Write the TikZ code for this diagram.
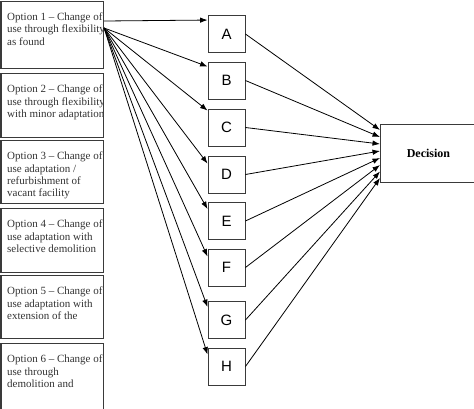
\documentclass[tikz,border=0pt]{standalone}
\usepackage{fontspec}
\setmainfont{Liberation Serif}
\newfontfamily\sansf{Liberation Sans}
\usetikzlibrary{arrows.meta}
\definecolor{boxgray}{HTML}{3A3A3A}
\definecolor{txtgray}{HTML}{333333}
\begin{document}
\begin{tikzpicture}[x=1pt,y=-1pt,
  optbox/.style={draw=boxgray, line width=1.1pt, anchor=north west, minimum width=102.5pt, inner sep=0pt},
  lettbox/.style={draw=boxgray, line width=0.9pt, minimum width=37pt, minimum height=37pt, inner sep=0pt, font=\sansf\fontsize{15}{17}\selectfont},
  decbox/.style={draw=boxgray, line width=0.9pt, anchor=north west, minimum width=96pt, minimum height=58pt, inner sep=0pt, font=\bfseries\fontsize{12}{14}\selectfont},
  arr/.style={-{Latex[length=7.5pt,width=5.5pt]}, line width=0.8pt, black},
  opttext/.style={anchor=north west, align=left, inner sep=0pt, text=txtgray, font=\fontsize{11}{12.3}\selectfont}
]
\clip (0,0) rectangle (474,408);
\fill[white] (0,0) rectangle (474,408);

\node[optbox, minimum height=67.5pt] (o1) at (0.5,0.5) {};
\node[optbox, minimum height=63.5pt] (o2) at (0.5,73) {};
\node[optbox, minimum height=63pt] (o3) at (0.5,140) {};
\node[optbox, minimum height=64pt] (o4) at (0.5,208) {};
\node[optbox, minimum height=63pt] (o5) at (0.5,275) {};
\node[optbox, minimum height=70pt] (o6) at (0.5,343) {};

\begin{scope}
\clip (0,0) rectangle (102.5,408);
\node[opttext] (t1) at ([xshift=6.5pt,yshift=-12pt]o1.north west) {Option 1 – Change of\\use through flexibility\\as found};
\node[opttext] (t2) at ([xshift=6.5pt,yshift=-12pt]o2.north west) {Option 2 – Change of\\use through flexibility\\with minor adaptation};
\node[opttext] (t3) at ([xshift=6.5pt,yshift=-12pt]o3.north west) {Option 3 – Change of\\use adaptation /\\refurbishment of\\vacant facility};
\node[opttext] (t4) at ([xshift=6.5pt,yshift=-12pt]o4.north west) {Option 4 – Change of\\use adaptation with\\selective demolition};
\node[opttext] (t5) at ([xshift=6.5pt,yshift=-12pt]o5.north west) {Option 5 – Change of\\use adaptation with\\extension of the};
\node[opttext] (t6) at ([xshift=6.5pt,yshift=-12pt]o6.north west) {Option 6 – Change of\\use through\\demolition and};
\end{scope}

\node[lettbox] (A) at (226.5,34) {A};
\node[lettbox] (B) at (226.5,80.5) {B};
\node[lettbox] (C) at (226.5,127.5) {C};
\node[lettbox] (D) at (226.5,174.5) {D};
\node[lettbox] (E) at (226.5,221) {E};
\node[lettbox] (F) at (226.5,267.5) {F};
\node[lettbox] (G) at (226.5,320) {G};
\node[lettbox] (H) at (226.5,366.5) {H};

\node[decbox] (dec) at (380,124) {Decision\hspace{16pt}};

\coordinate (s1) at ([yshift=-20.5pt]o1.north east);
\coordinate (s2) at ([yshift=-27.5pt]o1.north east);

\draw[arr] (s1) -- ([yshift=-5pt]A.north west);
\foreach \n/\d in {B/5,C/2,D/8,E/7,F/8,G/6,H/7}{
  \draw[arr] (s2) -- ([yshift=-\d pt]\n.north west);
}
\foreach \n/\d in {A/6,B/13,C/20,D/27,E/34,F/41,G/47.5,H/54}{
  \draw[arr] (\n.east) -- ([yshift=-\d pt]dec.north west);
}
\end{tikzpicture}
\end{document}
